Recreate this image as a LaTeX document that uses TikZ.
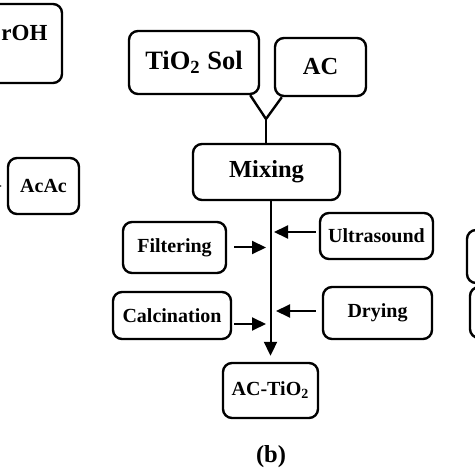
\documentclass[tikz,border=0pt]{standalone}
\usepackage{fontspec}
\setmainfont{Liberation Serif}
\usetikzlibrary{arrows.meta,calc}

\begin{document}
\begin{tikzpicture}[x=0.5pt,y=-0.5pt,
		box/.style={draw,line width=1.2pt,rounded corners=4.5pt,inner sep=0pt,font=\bfseries\fontsize{10}{12}\selectfont},
		bigbox/.style={box,font=\bfseries\fontsize{12.25}{14}\selectfont},
		flow/.style={line width=1pt,-{Triangle[length=7pt,width=6.5pt]}}]
		\useasboundingbox (0,0) rectangle (474,474);
		% boxes
		\node[box,minimum width=51pt,minimum height=39.5pt] (proh) at (11,43.5) {};
		\node[anchor=west,inner sep=0pt,font=\bfseries\fontsize{11.5}{14}\selectfont] (prohtxt) at (1,33) {rOH};
		\node[box,minimum width=35.5pt,minimum height=28pt] (acac) at (43.5,186) {AcAc};
		\node[bigbox,minimum width=65pt,minimum height=31.5pt,font=\bfseries\fontsize{13.25}{15}\selectfont] (tio) at (194,62.5) {TiO\textsubscript{2} Sol};
		\node[bigbox,minimum width=45.5pt,minimum height=29pt] (ac) at (320.5,67) {AC};
		\node[bigbox,minimum width=73.5pt,minimum height=28pt] (mix) at (266.5,172) {Mixing};
		\node[box,minimum width=51.5pt,minimum height=25.5pt] (filt) at (174.5,247.5) {Filtering};
		\node[box,minimum width=56.5pt,minimum height=23pt] (ultra) at (376.5,236) {Ultrasound};
		\node[box,minimum width=59pt,minimum height=23.5pt] (calcin) at (172,315.5) {Calcination};
		\node[box,minimum width=54.5pt,minimum height=26pt] (dry) at (377.5,313) {Drying};
		\node[box,minimum width=47.5pt,minimum height=27.5pt] (actio) at (270.5,390.5) {AC-TiO\textsubscript{2}};
		\node[box,minimum width=30pt,minimum height=26.5pt] (rightA) at (497,256.5) {};
		\node[box,minimum width=30pt,minimum height=25.5pt] (rightB) at (500,312.5) {};
		\node[font=\bfseries\fontsize{12.25}{14}\selectfont] (lblb) at (271,457) {(b)};
		% connectors
		\coordinate (join) at (266,119);
		\draw[line width=1.2pt] ($(tio.south east)+(-10,0)$) -- (join) -- ($(ac.south west)+(8,0)$);
		\draw[line width=1.2pt] (join) -- (join |- mix.north);
		\draw[flow,shorten >=3pt] (mix.south -| actio.north) -- (actio.north);
		\draw[flow,shorten <=3.5pt,shorten >=2.25pt] (filt.east) -- (filt.east -| actio.north);
		\draw[flow,shorten <=1.5pt,shorten >=1.75pt] ([yshift=2pt]ultra.west) -- ([yshift=2pt]ultra.west -| actio.north);
		\draw[flow,shorten <=1pt,shorten >=2.25pt] ([yshift=-4.25pt]calcin.east) -- ([yshift=-4.25pt]calcin.east -| actio.north);
		\draw[flow,shorten <=3pt,shorten >=2.75pt] ([yshift=1pt]dry.west) -- ([yshift=1pt]dry.west -| actio.north);
		\coordinate (acin) at (-30,186);
		\draw[flow,shorten >=2.5pt] (acin) -- (acac.west);
\end{tikzpicture}
\end{document}
